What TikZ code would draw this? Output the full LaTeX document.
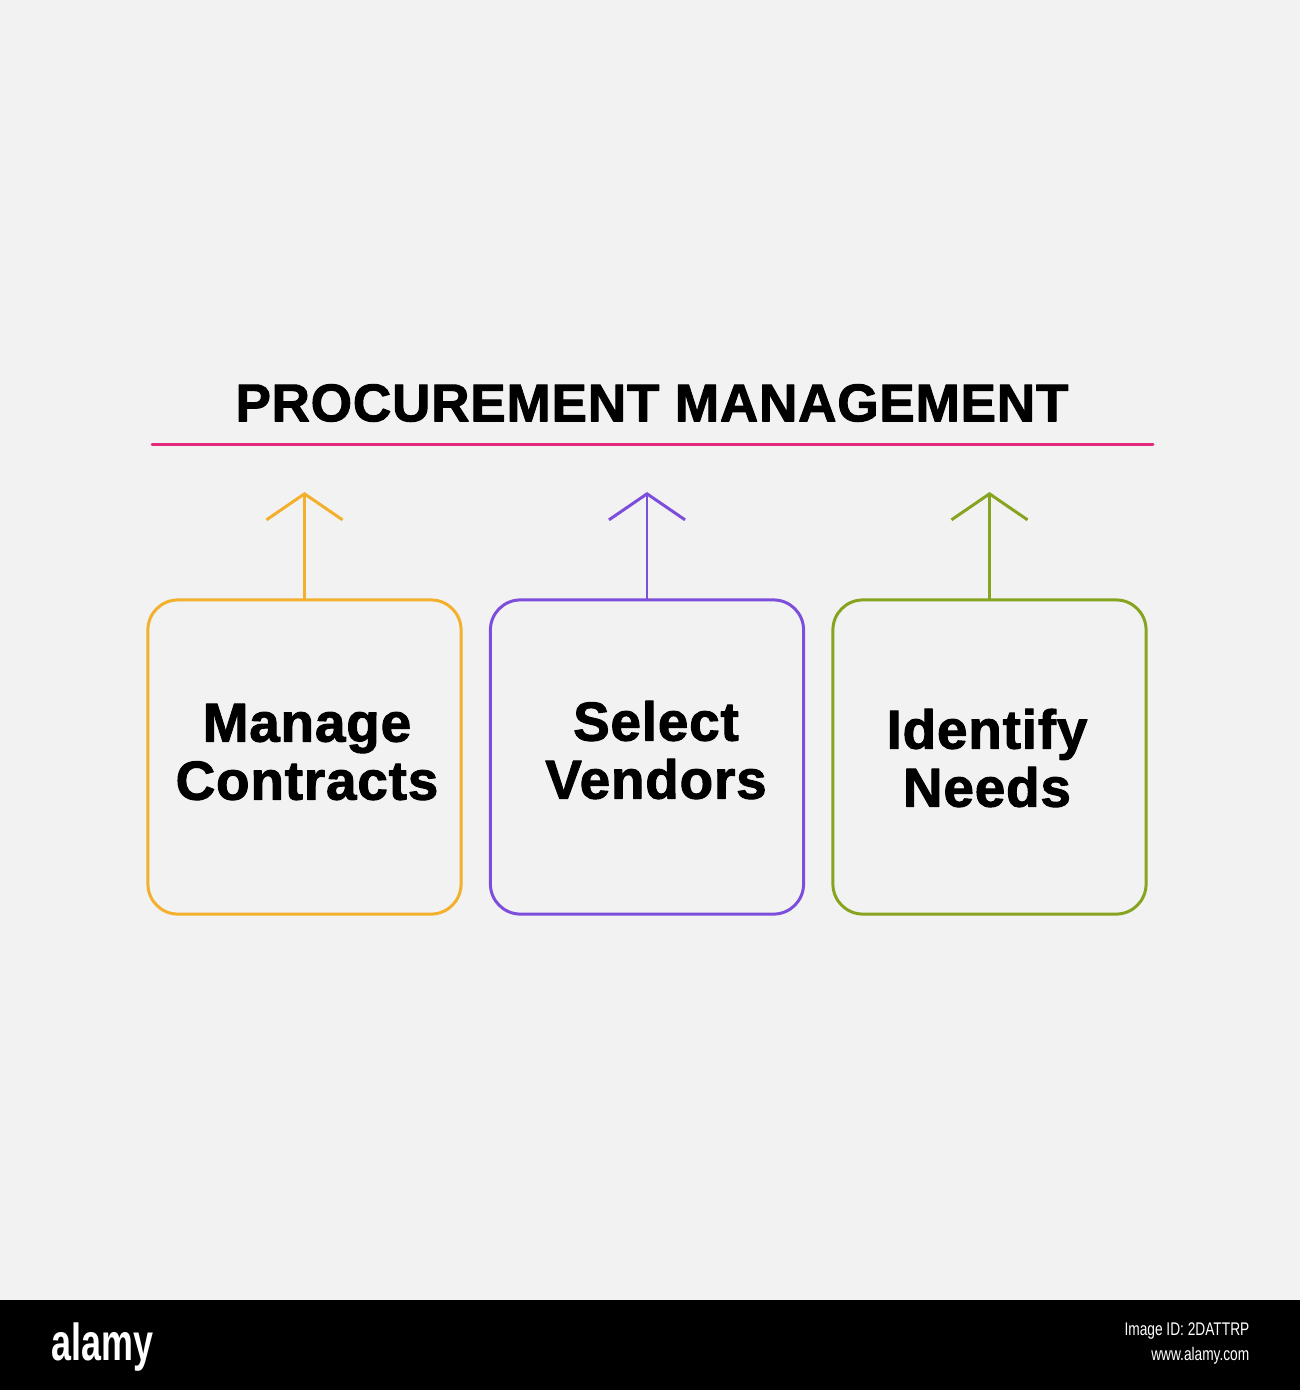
\documentclass[tikz,border=0pt]{standalone}
\usepackage{fontspec}
\setmainfont[BoldFeatures={FakeBold=1.8,LetterSpace=1.5}]{Liberation Sans}
\newfontfamily\narrowfont[FakeStretch=0.75]{Liberation Sans}
\newfontfamily\logofont[FakeStretch=0.69]{Liberation Sans}
\usetikzlibrary{arrows.meta}
\definecolor{fond}{HTML}{F2F2F2}
\definecolor{orange}{HTML}{F3B02C}
\definecolor{violet}{HTML}{7D4EDB}
\definecolor{vert}{HTML}{86A41F}
\definecolor{rose}{HTML}{E32A7C}
\tikzset{
  boite/.style={draw, line width=0.85pt, rounded corners=0.3cm, minimum width=3.13cm, minimum height=3.14cm},
  etiquette/.style={align=center, font=\bfseries\fontsize{15.6}{16.5}\selectfont}
}

\begin{document}
\begin{tikzpicture}[line cap=round,line join=round,>={Straight Barb[length=2.6mm,width=7.6mm]},x=0.01cm,y=-0.01cm]
			\fill[fond] (0,0) rectangle (1300,1300);
			\useasboundingbox (0,0) rectangle (1300,1390);
			%Titre
			\node (titre) at (652,403) {\bfseries\fontsize{15.1}{18}\selectfont PROCUREMENT MANAGEMENT};
			\coordinate (g) at (152,444);
			\coordinate (d) at (1153,444);
			\draw[rose, line width=0.85pt] (g)--(d);
			%Boite 1
			\node[boite, orange] (b1) at (304.5,757) {};
			\node[etiquette] (t1) at (307,752) {Manage\\Contracts};
			\coordinate (p1) at (304.5,492);
			\draw[orange, line width=0.85pt, ->] (b1.north)--(p1);
			%Boite 2
			\node[boite, violet] (b2) at (647,757) {};
			\node[etiquette] (t2) at (656,750) {Select\\Vendors};
			\coordinate (p2) at (647,492);
			\draw[violet, line width=0.85pt, ->] (b2.north)--(p2);
			%Boite 3
			\node[boite, vert] (b3) at (989.5,757) {};
			\node[etiquette] (t3) at (987,758) {Identify\\Needs};
			\coordinate (p3) at (989.5,492);
			\draw[vert, line width=0.85pt, ->] (b3.north)--(p3);
			%Bandeau
			\fill[black] (0,1300) rectangle (1300,1390);
			\node[white, anchor=base west, inner sep=0pt] (logo) at (51,1360) {\logofont\bfseries\fontsize{14.8}{16}\selectfont alamy};
			\node[white, anchor=base east, inner sep=0pt] (ident) at (1250,1335) {\narrowfont\fontsize{5.2}{6}\selectfont Image ID: 2DATTRP};
			\node[white, anchor=base east, inner sep=0pt] (site) at (1250,1360) {\narrowfont\fontsize{5.2}{6}\selectfont www.alamy.com};
	\end{tikzpicture}
\end{document}
